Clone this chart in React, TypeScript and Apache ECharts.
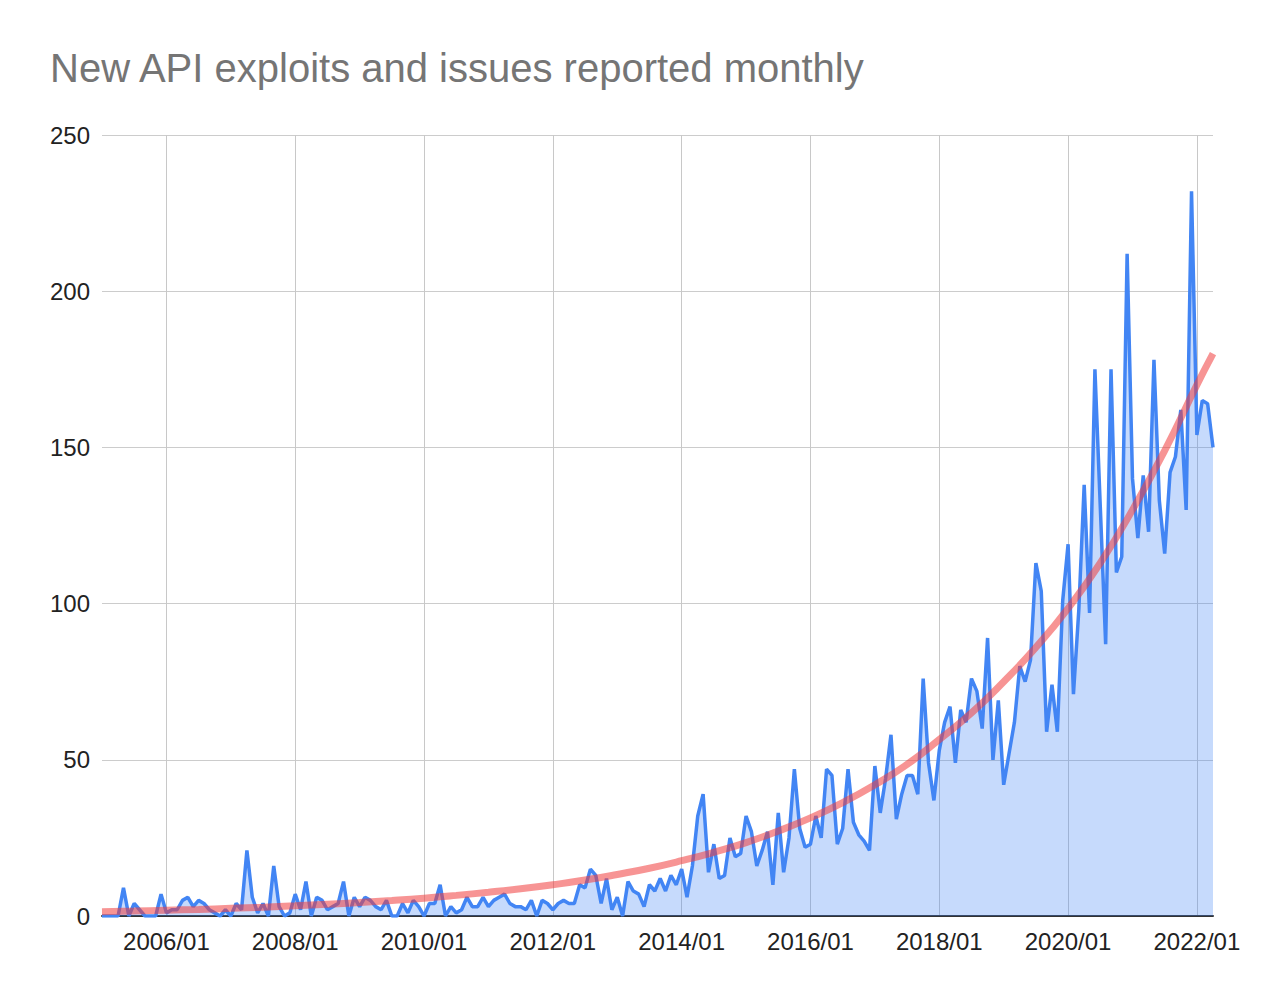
import { useEffect, useRef } from 'react';
import * as echarts from 'echarts';

// ---------------------------------------------------------------------------
// Data (monthly counts, 2005/01 .. 2022/04)
// ---------------------------------------------------------------------------

const START_YEAR = 2005;

const MONTHLY_COUNTS = [
  // 2005
  0, 0, 0, 0, 9, 0, 4, 2, 0, 0, 0, 7,
  // 2006
  1, 2, 2, 5, 6, 3, 5, 4, 2, 1, 0, 2,
  // 2007
  0, 4, 2, 21, 6, 1, 4, 0, 16, 3, 0, 1,
  // 2008
  7, 2, 11, 0, 6, 5, 2, 3, 4, 11, 0, 6,
  // 2009
  3, 6, 5, 3, 2, 5, 0, 0, 4, 1, 5, 3,
  // 2010
  0, 4, 4, 10, 0, 3, 1, 2, 6, 3, 3, 6,
  // 2011
  3, 5, 6, 7, 4, 3, 3, 2, 5, 0, 5, 4,
  // 2012
  2, 4, 5, 4, 4, 10, 9, 15, 13, 4, 12, 2,
  // 2013
  6, 0, 11, 8, 7, 3, 10, 8, 12, 8, 13, 10,
  // 2014
  15, 6, 16, 32, 39, 14, 23, 12, 13, 25, 19, 20,
  // 2015
  32, 27, 16, 21, 27, 10, 33, 14, 25, 47, 28, 22,
  // 2016
  23, 32, 25, 47, 45, 23, 28, 47, 30, 26, 24, 21,
  // 2017
  48, 33, 44, 58, 31, 39, 45, 45, 39, 76, 49, 37,
  // 2018
  53, 62, 67, 49, 66, 62, 76, 72, 60, 89, 50, 69,
  // 2019
  42, 52, 62, 80, 75, 82, 113, 104, 59, 74, 59, 101,
  // 2020
  119, 71, 98, 138, 97, 175, 131, 87, 175, 110, 115, 212,
  // 2021
  140, 121, 141, 123, 178, 133, 116, 142, 147, 162, 130, 232,
  // 2022
  154, 165, 164, 150,
];

// exponential trendline, every six months (+ last month)
const TREND_MONTH_INDEX = [
  0, 6, 12, 18, 24, 30, 36, 42, 48, 54, 60, 66, 72, 78, 84, 90, 96, 102,
  108, 114, 120, 126, 132, 138, 144, 150, 156, 162, 168, 174, 180, 186, 192, 198, 204, 207,
];
const TREND_VALUES = [
  1.4, 1.6, 1.85, 2.1, 2.45, 2.8, 3.25, 3.75, 4.3, 4.95, 5.7, 6.6, 7.6, 8.7, 10.0, 11.5, 13.3, 15.3,
  17.7, 20.4, 23.5, 27.2, 31.4, 36.3, 42, 48.5, 56.5, 65, 75, 86, 98.5, 113, 130, 149, 170, 180,
];

const X_TICK_LABELS = [
  '2006/01', '2008/01', '2010/01', '2012/01', '2014/01',
  '2016/01', '2018/01', '2020/01', '2022/01',
];

const MONTHS = MONTHLY_COUNTS.map(
  (_, i) => `${START_YEAR + Math.floor(i / 12)}/${String((i % 12) + 1).padStart(2, '0')}`,
);

const FONT = '"Liberation Sans", Arial, sans-serif';

// ---------------------------------------------------------------------------
// Option
// ---------------------------------------------------------------------------

const isTick = (_idx: number, value: string) => X_TICK_LABELS.includes(value);

function buildOption(): echarts.EChartsOption {
  return {
    animation: false,
    textStyle: { fontFamily: FONT },
    title: {
      text: 'New API exploits and issues reported monthly',
      left: 50,
      top: 48,
      padding: 0,
      textStyle: { fontFamily: FONT, fontSize: 40, fontWeight: 'normal', color: '#757575' },
    },
    grid: { left: 102, right: 51, top: 135, bottom: 88, containLabel: false },
    xAxis: {
      type: 'category',
      data: MONTHS,
      boundaryGap: false,
      axisLine: { show: true, lineStyle: { color: '#333333', width: 2 } },
      axisTick: { show: false },
      axisLabel: {
        interval: isTick,
        margin: 13,
        fontSize: 24,
        color: '#222222',
        fontFamily: FONT,
      },
      splitLine: { show: true, interval: isTick, lineStyle: { color: '#c8c8c8', width: 1 } },
    },
    yAxis: {
      type: 'value',
      min: 0,
      max: 250,
      interval: 50,
      axisLine: { show: false },
      axisTick: { show: false },
      axisLabel: { margin: 12, fontSize: 24, color: '#222222', fontFamily: FONT },
      splitLine: { lineStyle: { color: '#cccccc', width: 1 } },
    },
    series: [
      {
        name: 'Reported',
        type: 'line',
        data: MONTHLY_COUNTS,
        showSymbol: false,
        lineStyle: { color: '#4285f4', width: 3.5 },
        itemStyle: { color: '#4285f4' },
        areaStyle: { color: '#4285f4', opacity: 0.3 },
      },
      {
        name: 'Trend',
        type: 'line',
        data: TREND_MONTH_INDEX.map((m, i) => [m, TREND_VALUES[i]]),
        showSymbol: false,
        smooth: true,
        lineStyle: { color: 'rgba(240, 60, 60, 0.55)', width: 7, cap: 'butt' },
        itemStyle: { color: 'rgba(240, 60, 60, 0.55)' },
      },
    ],
  };
}

// ---------------------------------------------------------------------------
// Component
// ---------------------------------------------------------------------------

export default function App() {
  const containerRef = useRef<HTMLDivElement | null>(null);

  useEffect(() => {
    if (!containerRef.current) return;
    const chart = echarts.init(containerRef.current, undefined, { renderer: 'svg' });
    chart.setOption(buildOption());
    return () => chart.dispose();
  }, []);

  return (
    <div
      ref={containerRef}
      style={{ position: 'fixed', left: 0, top: 0, width: 1264, height: 1004, background: '#ffffff' }}
    />
  );
}
